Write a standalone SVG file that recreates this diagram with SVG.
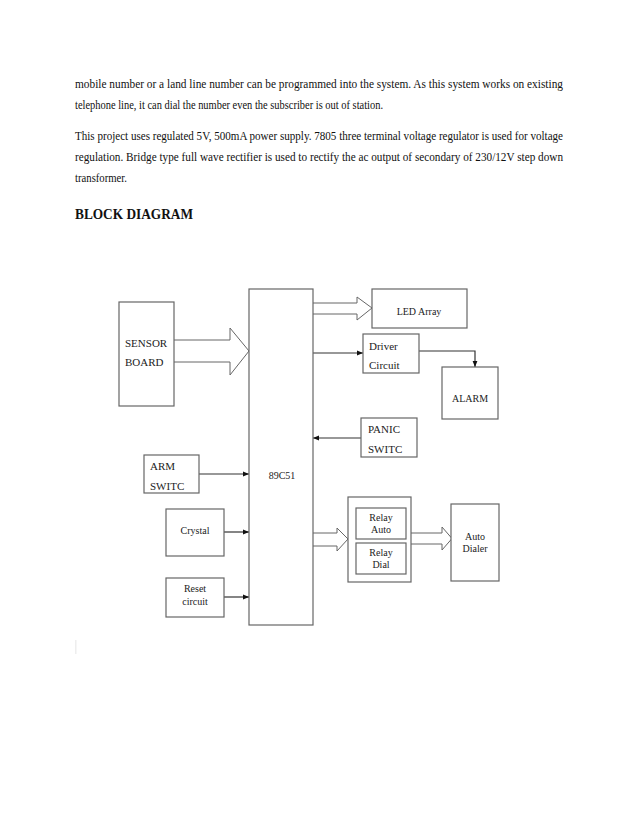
<svg xmlns="http://www.w3.org/2000/svg" width="638" height="826" viewBox="0 0 638 826">
<style>
.body{font-family:"Liberation Serif",serif;font-size:12.5px;fill:#111}
.h{font-family:"Liberation Serif",serif;font-size:15px;font-weight:bold;fill:#111}
.lbl{font-family:"Liberation Serif",serif;font-size:11px;fill:#222}
.sm{font-family:"Liberation Serif",serif;font-size:10px;fill:#222}
.box{fill:#fff;stroke:#666;stroke-width:1.2}
.ln{fill:none;stroke:#333;stroke-width:1.2}
.blk{fill:#fff;stroke:#666;stroke-width:1}
</style>
<defs>
<marker id="ah" viewBox="0 0 10 10" refX="10" refY="5" markerWidth="6" markerHeight="6" orient="auto" markerUnits="userSpaceOnUse">
<path d="M0,1 L10,5 L0,9 z" fill="#111"/>
</marker>
</defs>
<rect width="638" height="826" fill="#fff"/>
<g id="text">
<text class="body" x="75" y="88" textLength="488" lengthAdjust="spacingAndGlyphs">mobile number or a land line number can be programmed into the system. As this system works on existing</text>
<text class="body" x="75" y="109" textLength="308" lengthAdjust="spacingAndGlyphs">telephone line, it can dial the number even the subscriber is out of station.</text>
<text class="body" x="75" y="140" textLength="488" lengthAdjust="spacingAndGlyphs">This project uses regulated 5V, 500mA power supply. 7805 three terminal voltage regulator is used for voltage</text>
<text class="body" x="75" y="161" textLength="488" lengthAdjust="spacingAndGlyphs">regulation. Bridge type full wave rectifier is used to rectify the ac output of secondary of 230/12V step down</text>
<text class="body" x="75" y="182" textLength="52" lengthAdjust="spacingAndGlyphs">transformer.</text>
<text class="h" x="75" y="219" textLength="118" lengthAdjust="spacingAndGlyphs">BLOCK DIAGRAM</text>
</g>
<g id="connectors">
<path class="blk" d="M174,340 H230 V328 L249,351 L230,375 V362 H174"/>
<path class="blk" d="M313,303 H357 V297 L372,308 L357,320 V314 H313"/>
<path class="blk" d="M313,533 H337 V528 L348,539 L337,551 V546 H313"/>
<path class="blk" d="M411,533 H442 V527 L452,538.5 L442,550 V544 H411"/>
<line class="ln" x1="313" y1="353" x2="363" y2="353" marker-end="url(#ah)"/>
<path class="ln" d="M419,351 H475 V367" marker-end="url(#ah)"/>
<line class="ln" x1="361" y1="438" x2="313" y2="438" marker-end="url(#ah)"/>
<line class="ln" x1="199" y1="474" x2="249" y2="474" marker-end="url(#ah)"/>
<line class="ln" x1="224" y1="532" x2="249" y2="532" marker-end="url(#ah)"/>
<line class="ln" x1="224" y1="597" x2="249" y2="597" marker-end="url(#ah)"/>
</g>
<g id="sensor"><rect class="box" x="119" y="302" width="55" height="104"/><text class="lbl" x="125" y="347">SENSOR</text><text class="lbl" x="125" y="366">BOARD</text></g>
<g id="mcu"><rect class="box" x="249" y="289" width="64" height="336"/><text class="sm" x="282" y="479" text-anchor="middle">89C51</text></g>
<g id="led"><rect class="box" x="372" y="289" width="95" height="39"/><text class="sm" x="419" y="315" text-anchor="middle">LED Array</text></g>
<g id="driver"><rect class="box" x="363" y="334" width="56" height="39"/><text class="lbl" x="369" y="350">Driver</text><text class="lbl" x="369" y="369">Circuit</text></g>
<g id="alarm"><rect class="box" x="442" y="367" width="56" height="52"/><text class="sm" x="470" y="402" text-anchor="middle">ALARM</text></g>
<g id="panic"><rect class="box" x="361" y="418" width="56" height="39"/><text class="lbl" x="368" y="433">PANIC</text><text class="lbl" x="368" y="453">SWITC</text></g>
<g id="arm"><rect class="box" x="144" y="455" width="55" height="38"/><text class="lbl" x="150" y="470">ARM</text><text class="lbl" x="150" y="490">SWITC</text></g>
<g id="crystal"><rect class="box" x="166" y="509" width="58" height="47"/><text class="sm" x="195" y="534" text-anchor="middle">Crystal</text></g>
<g id="reset"><rect class="box" x="166" y="578" width="58" height="39"/><text class="sm" x="195" y="592" text-anchor="middle">Reset</text><text class="sm" x="195" y="605" text-anchor="middle">circuit</text></g>
<g id="relay"><rect class="box" x="348" y="497" width="63" height="85"/>
<rect class="box" x="356" y="508" width="50" height="31"/><text class="sm" x="381" y="521" text-anchor="middle">Relay</text><text class="sm" x="381" y="533" text-anchor="middle">Auto</text>
<rect class="box" x="356" y="543" width="50" height="31"/><text class="sm" x="381" y="556" text-anchor="middle">Relay</text><text class="sm" x="381" y="568" text-anchor="middle">Dial</text></g>
<g id="dialer"><rect class="box" x="451" y="504" width="48" height="77"/><text class="sm" x="475" y="540" text-anchor="middle">Auto</text><text class="sm" x="475" y="552" text-anchor="middle">Dialer</text></g>
<rect x="75" y="640" width="1.5" height="14" fill="#eee"/>
</svg>
